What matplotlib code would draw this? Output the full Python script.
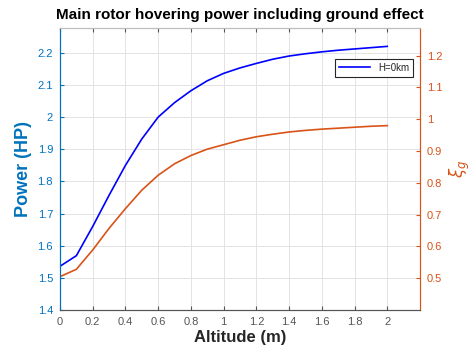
import matplotlib.pyplot as plt

plt.rcParams['font.family'] = ['Liberation Sans', 'DejaVu Sans']

altitude = [0, 0.1, 0.2, 0.3, 0.4, 0.5, 0.6, 0.7, 0.8, 0.9, 1.0,
            1.1, 1.2, 1.3, 1.4, 1.5, 1.6, 1.7, 1.8, 1.9, 2.0]
power = [1.536, 1.569, 1.66, 1.757, 1.85, 1.932, 2.0, 2.045, 2.082, 2.113, 2.136,
         2.153, 2.167, 2.18, 2.19, 2.197, 2.203, 2.208, 2.212, 2.216, 2.22]
xi_g = [0.505, 0.528, 0.589, 0.657, 0.719, 0.777, 0.824, 0.86, 0.886, 0.906, 0.92,
        0.934, 0.945, 0.953, 0.96, 0.965, 0.969, 0.972, 0.975, 0.978, 0.98]

xticks = [0, 0.2, 0.4, 0.6, 0.8, 1, 1.2, 1.4, 1.6, 1.8, 2]
xticklabels = ['0', '0.2', '0.4', '0.6', '0.8', '1', '1.2', '1.4', '1.6', '1.8', '2']
lticks = [1.4, 1.5, 1.6, 1.7, 1.8, 1.9, 2, 2.1, 2.2]
lticklabels = ['1.4', '1.5', '1.6', '1.7', '1.8', '1.9', '2', '2.1', '2.2']
rticks = [0.5, 0.6, 0.7, 0.8, 0.9, 1, 1.1, 1.2]
rticklabels = ['0.5', '0.6', '0.7', '0.8', '0.9', '1', '1.1', '1.2']

blue_ax = '#0072BD'
orange = '#D95319'
gray = '#262626'

fig = plt.figure(figsize=(4.74, 3.51), dpi=100)
ax = fig.add_axes([0.1266, 0.1168, 0.7594, 0.8042])
ax2 = ax.twinx()

l1, = ax.plot(altitude, power, color='#0000FF', linewidth=1.2, label='H=0km')
ax2.plot(altitude, xi_g, color=orange, linewidth=1.2)

ax.set_xlim(0, 2.2)
ax.set_ylim(1.4, 2.278)
ax2.set_ylim(0.4, 1.288)

ax.set_xticks(xticks)
ax.set_xticklabels(xticklabels)
ax.set_yticks(lticks)
ax.set_yticklabels(lticklabels)
ax2.set_yticks(rticks)
ax2.set_yticklabels(rticklabels)

ax.grid(True, color='#e3e3e3', linewidth=0.7)
ax.set_axisbelow(True)

ax.tick_params(axis='x', direction='in', length=3, colors='#555555', labelsize=8, top=True, pad=5)
ax.tick_params(axis='y', direction='in', length=3, colors=blue_ax, labelsize=8, pad=5)
ax2.tick_params(axis='y', direction='in', length=3, colors=orange, labelsize=8, pad=5)

for a in (ax, ax2):
    a.spines['bottom'].set_color('#555555')
    a.spines['top'].set_color('#bdbdbd')
    a.spines['left'].set_color(blue_ax)
    a.spines['right'].set_color(orange)
    for s in a.spines.values():
        s.set_linewidth(0.8)

ax.set_xlabel('Altitude (m)', fontsize=12, fontweight='bold', color=gray, labelpad=2)
ax.set_ylabel('Power (HP)', fontsize=13, fontweight='bold', color=blue_ax, labelpad=4)
ax2.set_ylabel(r'$\xi_g$', fontsize=12, color=orange, rotation=90, labelpad=4)
ax.set_title('Main rotor hovering power including ground effect',
             fontsize=11, fontweight='bold', color='black', pad=6)

leg = ax.legend(handles=[l1], loc='upper right', bbox_to_anchor=(0.98, 0.89),
                borderaxespad=0, fontsize=7, frameon=True, fancybox=False,
                handlelength=3.2, borderpad=0.4, edgecolor='#262626', framealpha=1)
leg.get_frame().set_linewidth(0.8)
for t in leg.get_texts():
    t.set_color(gray)

fig.savefig('out.png', dpi=100)
